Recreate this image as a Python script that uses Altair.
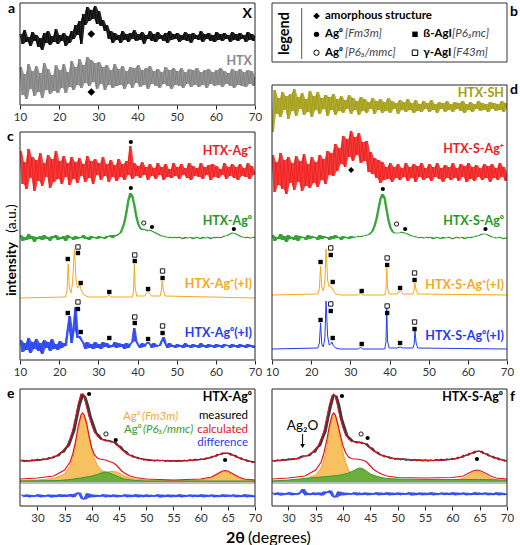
import altair as alt
import pandas as pd

FONT = "Lato"
DUMMY = pd.DataFrame({"k": [0]})

# 2-theta sampling positions
G = [10 + 0.5 * i for i in range(121)]   # panels a, c, d (10..70)
GE = [27 + 0.5 * i for i in range(87)]   # panels e, f (27..70)

# ---------------- panel a ----------------
A_X = [71, 61, 75, 63, 68, 59, 73, 64, 70, 58,
       67, 55, 72, 62, 74, 60, 69, 63, 76, 61,
       70, 64, 72, 59, 69, 62, 74, 66, 80, 70,
       84, 61, 91, 80, 98, 84, 95, 86, 99, 81,
       94, 79, 85, 74, 80, 66, 74, 62, 72, 65,
       70, 62, 74, 65, 71, 63, 72, 66, 75, 64,
       71, 65, 73, 61, 70, 66, 74, 64, 71, 63,
       73, 66, 70, 64, 72, 62, 74, 65, 71, 66,
       72, 63, 70, 65, 73, 64, 71, 62, 72, 66,
       70, 65, 74, 63, 71, 66, 72, 64, 70, 63,
       73, 65, 71, 64, 72, 66, 70, 63, 73, 65,
       71, 64, 72, 66, 70, 63, 73, 65, 71, 64,
       69]
A_HTX = [38, 10, 31, 6, 41, 16, 34, 9, 39, 13,
         32, 7, 42, 15, 36, 11, 30, 14, 40, 12,
         35, 17, 41, 12, 33, 18, 44, 15, 38, 20,
         46, 17, 40, 22, 48, 19, 45, 23, 42, 16,
         43, 21, 38, 15, 40, 20, 35, 17, 41, 19,
         36, 20, 39, 16, 34, 21, 38, 17, 37, 22,
         40, 18, 35, 20, 37, 16, 39, 21, 34, 19,
         36, 17, 33, 21, 38, 19, 35, 16, 37, 20,
         34, 19, 37, 17, 33, 21, 36, 18, 35, 20,
         37, 18, 33, 20, 35, 17, 36, 21, 33, 19,
         35, 20, 37, 18, 34, 21, 32, 19, 36, 17,
         34, 20, 36, 19, 33, 18, 35, 21, 34, 19,
         27]
A_MK = (["dia", "dia"], [28.2, 28.2], [71, 13])

# ---------------- panel c ----------------
C_AGP = [209, 176, 198, 171, 211, 182, 203, 169, 200, 179,
         207, 174, 197, 183, 205, 172, 201, 178, 209, 181,
         199, 176, 204, 183, 197, 175, 203, 181, 198, 177,
         202, 184, 196, 178, 204, 182, 199, 176, 201, 185,
         197, 180, 203, 184, 196, 178, 200, 183, 195, 179,
         201, 183, 196, 180, 199, 185, 214, 181, 197, 184,
         194, 182, 198, 185, 193, 180, 196, 184, 192, 181,
         197, 185, 193, 180, 196, 183, 191, 182, 197, 184,
         193, 181, 196, 185, 192, 182, 197, 180, 194, 184,
         192, 183, 197, 181, 193, 185, 195, 180, 196, 183,
         194, 182, 191, 185, 197, 181, 193, 184, 196, 182,
         193, 180, 196, 184, 192, 183, 197, 181, 194, 185,
         188]
C_AG0 = [125, 119, 123, 120, 126, 121, 124, 118, 123, 121,
         124, 120, 125, 121, 123, 119, 124, 122, 125, 120,
         123, 121, 124, 119, 125, 122, 123, 120, 124, 121,
         123, 122, 125, 121, 123, 120, 124, 122, 123, 121,
         124, 122, 123, 121, 124, 123, 125, 122, 125, 124,
         126, 127, 132, 138, 148, 160, 167, 164, 155, 144,
         136, 132, 130, 131, 130, 129, 130, 129, 128, 127,
         126, 125, 124, 124, 123, 123, 122, 123, 122, 123,
         122, 123, 122, 121, 123, 122, 122, 123, 121, 122,
         123, 122, 121, 123, 122, 122, 123, 121, 122, 123,
         122, 123, 122, 123, 124, 124, 125, 126, 127, 127,
         126, 125, 124, 123, 123, 122, 123, 122, 122, 123,
         122]
C_AG0I = [20, 8, 17, 10, 22, 7, 18, 11, 21, 9,
          17, 6, 20, 12, 18, 9, 21, 11, 16, 10,
          19, 12, 17, 14, 30, 44, 17, 30, 53, 22,
          24, 20, 17, 11, 18, 12, 16, 11, 18, 12,
          16, 11, 18, 13, 17, 12, 15, 13, 18, 12,
          17, 13, 16, 11, 17, 12, 16, 18, 32, 19,
          15, 12, 17, 13, 16, 18, 16, 12, 17, 13,
          15, 14, 19, 23, 16, 12, 17, 13, 15, 12,
          16, 13, 15, 12, 17, 13, 15, 12, 16, 13,
          15, 12, 17, 13, 15, 12, 16, 13, 15, 12,
          16, 13, 15, 12, 16, 14, 15, 12, 16, 13,
          15, 12, 16, 13, 15, 12, 16, 13, 15, 12,
          14]
C_AGPI_T = [10, 21.6, 22.0, 22.3, 22.6, 23.0, 23.4, 23.9, 24.3, 24.7, 25.0, 25.3,
            25.7, 26.3, 27.5, 32.2, 32.7, 33.2, 38.7, 39.0, 39.2, 39.4, 39.8, 41.8,
            42.7, 43.5, 45.8, 46.1, 46.3, 46.6, 47.0, 70]
C_AGPI_V = [62, 63, 70, 96, 72, 67, 76, 111, 80, 72, 73, 75,
            69, 65, 63, 63, 65, 63, 63, 70, 96, 72, 64, 64,
            69, 64, 64, 70, 79, 70, 64, 62]
C_MK = (["dot", "dot", "ring", "dot", "dot",
         "sq", "osq", "sq", "sq", "sq", "osq", "sq", "sq", "osq", "sq",
         "sq", "osq", "sq", "sq", "sq", "osq", "sq", "sq", "osq", "sq"],
        [38.3, 38.3, 41.6, 43.7, 64.6,
         22.2, 24.8, 24.8, 25.5, 32.8, 39.3, 39.3, 42.7, 46.4, 46.4,
         22.2, 24.8, 24.8, 25.5, 32.8, 39.3, 39.3, 42.7, 46.4, 46.4],
        [218, 172, 137, 133, 131,
         101, 113, 107, 77, 68, 105, 99, 71, 89, 82,
         47, 58, 51, 28, 22, 43, 37, 21, 34, 27])

# ---------------- panel d ----------------
D_SH = [228, 270, 246, 262, 243, 268, 250, 264, 241, 266,
        249, 271, 244, 263, 251, 267, 245, 261, 248, 269,
        243, 264, 250, 268, 246, 262, 251, 265, 244, 263,
        250, 266, 245, 261, 249, 264, 247, 260, 251, 265,
        246, 262, 250, 259, 245, 263, 249, 261, 247, 258,
        251, 262, 246, 259, 250, 261, 247, 258, 249, 262,
        247, 259, 251, 257, 246, 260, 250, 258, 248, 261,
        250, 257, 247, 260, 249, 256, 248, 259, 251, 257,
        248, 260, 250, 256, 247, 258, 251, 257, 248, 259,
        250, 256, 248, 258, 251, 257, 249, 259, 247, 256,
        250, 258, 248, 256, 251, 259, 249, 257, 250, 256,
        248, 258, 251, 257, 249, 256, 250, 259, 248, 257,
        253]
D_AGP = [205, 168, 198, 175, 207, 171, 200, 166, 203, 177,
         197, 170, 204, 178, 199, 169, 206, 174, 196, 172,
         203, 177, 198, 173, 205, 180, 201, 176, 209, 185,
         207, 184, 216, 189, 212, 196, 224, 193, 221, 203,
         229, 199, 223, 205, 227, 197, 218, 199, 219, 188,
         208, 186, 202, 182, 200, 177, 198, 180, 193, 181,
         197, 178, 193, 182, 196, 180, 192, 183, 197, 179,
         193, 182, 196, 178, 194, 183, 197, 180, 192, 182,
         196, 179, 193, 183, 197, 181, 192, 178, 195, 182,
         193, 180, 197, 182, 192, 179, 196, 183, 194, 178,
         197, 181, 193, 179, 195, 183, 192, 180, 196, 182,
         194, 178, 196, 182, 192, 180, 197, 183, 193, 179,
         187]
D_AG0 = [125, 119, 123, 121, 126, 120, 124, 118, 125, 121,
         123, 120, 125, 119, 124, 122, 123, 120, 125, 121,
         124, 122, 123, 120, 125, 121, 124, 122, 123, 120,
         124, 121, 125, 122, 123, 120, 124, 122, 123, 121,
         124, 122, 123, 123, 124, 123, 124, 124, 125, 125,
         127, 129, 134, 141, 151, 161, 166, 163, 152, 141,
         133, 129, 127, 127, 127, 127, 128, 127, 127, 126,
         125, 124, 124, 123, 123, 122, 123, 122, 122, 123,
         122, 123, 121, 122, 123, 122, 121, 123, 122, 122,
         123, 122, 121, 122, 123, 122, 122, 123, 121, 122,
         123, 122, 123, 123, 124, 124, 125, 126, 126, 126,
         125, 124, 123, 123, 122, 122, 123, 122, 121, 122,
         122]
D_I_T = [10, 21.7, 22.1, 22.4, 22.7, 23.1, 23.5, 23.8, 24.2, 24.6, 25.0, 25.3,
         25.7, 26.3, 27.5, 32.1, 32.6, 33.1, 38.8, 39.1, 39.3, 39.5, 39.9, 41.9,
         42.7, 43.5, 46.0, 46.3, 46.5, 46.8, 47.2, 70]
D_AGPI_V = [65, 66, 72, 94, 73, 69, 78, 111, 80, 73, 74, 72,
            69, 66, 65, 65, 67, 65, 65, 71, 92, 72, 66, 66,
            69, 66, 66, 70, 77, 70, 66, 65]
D_AG0I_V = [11, 12, 17, 37, 16, 13, 22, 59, 24, 15, 16, 18,
            14, 12, 11, 11, 13, 11, 11, 18, 52, 19, 12, 12,
            13, 12, 12, 16, 29, 17, 12, 11]
D_MK = (["dia", "dot", "ring", "dot", "dot",
         "sq", "osq", "sq", "sq", "sq", "osq", "sq", "sq", "osq", "sq",
         "sq", "osq", "sq", "sq", "sq", "osq", "sq", "sq", "osq", "sq"],
        [30.2, 38.3, 41.8, 44.0, 64.5,
         22.4, 25.0, 25.0, 25.5, 32.9, 39.4, 39.4, 42.7, 46.4, 46.4,
         22.4, 25.0, 25.0, 25.5, 32.9, 39.4, 39.4, 42.7, 46.4, 46.4],
        [190, 171, 136, 131, 131,
         98, 112, 105, 78, 69, 102, 95, 72, 87, 80,
         40, 56, 49, 22, 16, 54, 47, 17, 38, 31])

# ---------------- panel e ----------------
E_MEAS = [46.2, 44.3, 45.8, 44.6, 46.4, 45.0,
          46.9, 45.4, 47.3, 46.2, 48.4, 47.5, 49.9, 49.6, 52.8, 53.6,
          57.8, 60.3, 67.9, 75.2, 88.8, 101.3, 112.2, 109.2, 100.8, 89.3,
          81.7, 73.4, 70.9, 66.8, 66.9, 64.8, 65.8, 63.9, 64.2, 60.9,
          59.8, 55.9, 54.7, 51.3, 51.2, 48.8, 49.3, 47.0, 47.8, 45.8,
          46.9, 45.1, 46.3, 44.7, 46.2, 44.9, 46.0, 44.5, 45.9, 44.4,
          45.8, 44.3, 45.9, 44.6, 46.1, 44.8, 46.5, 45.2, 47.1, 45.8,
          47.3, 46.3, 48.2, 47.4, 49.8, 49.2, 51.8, 51.3, 53.3, 52.2,
          53.2, 50.8, 51.3, 48.5, 48.8, 46.3, 46.8, 44.5, 45.3, 43.3,
          44.2]
E_DIFF = [11.3, 9.0, 11.6, 8.7, 11.0, 9.2,
          11.8, 8.8, 10.9, 9.3, 11.5, 8.6, 11.2, 9.1, 11.7, 8.9,
          11.4, 9.2, 12.0, 8.8, 12.6, 13.5, 7.5, 6.5, 12.8, 8.6,
          11.5, 8.9, 11.1, 9.3, 11.8, 8.7, 11.2, 9.0, 11.6, 8.8,
          11.0, 9.2, 11.7, 8.8, 11.3, 9.1, 11.8, 8.7, 11.2, 9.0,
          11.6, 8.9, 11.1, 9.3, 11.7, 8.6, 11.3, 9.1, 11.5, 8.8,
          11.2, 9.0, 11.8, 8.7, 11.1, 9.2, 11.6, 8.9, 11.3, 9.1,
          11.7, 8.8, 11.2, 9.3, 11.5, 8.7, 11.0, 9.1, 11.8, 8.9,
          11.3, 9.2, 11.6, 8.8, 11.1, 9.0, 11.7, 8.7, 11.2, 9.1,
          10.2]
E_CALC_T = [26.8, 28, 30, 32, 33, 34, 35, 35.5, 36, 36.5, 37, 37.5, 38, 38.3, 38.6, 39,
            39.5, 40, 40.5, 41, 41.5, 42, 43, 44, 44.5, 45, 45.5, 46, 46.5, 47, 48, 49,
            50, 52, 55, 58, 60, 61, 62, 63, 64, 64.5, 65, 66, 67, 68, 69, 70]
E_CALC_V = [45, 45, 46, 47.5, 49, 52, 57, 61, 67, 76, 88, 102, 111, 112, 110, 100,
            90, 81, 74, 70, 67.5, 66, 65, 63.5, 61.5, 59, 56.5, 54, 52, 50.5, 48.5, 47,
            46, 45.5, 45, 45.5, 46.5, 47.5, 49, 51, 52.5, 53, 52.5, 50.5, 48, 46, 44.5, 43.5]
E_SUM_T = [26.8, 30, 33, 35, 36, 36.5, 37, 37.5, 38, 38.3, 38.6, 39, 39.5, 40, 40.5, 41,
           41.5, 42, 42.5, 43, 43.5, 44, 44.5, 45, 45.5, 46, 47, 48, 50, 55, 60, 62, 63,
           64, 64.5, 65, 66, 67, 68, 70]
E_SUM_V = [27, 28, 30, 36, 44, 52, 64, 80, 91, 93, 91, 84, 70, 58, 51, 48,
           47, 46.5, 46, 45, 44, 43, 41, 38, 35, 33, 30, 28.5, 27, 26, 27, 29, 32,
           35, 35.5, 35, 32, 29, 27, 26]
E_FM3M_V = [25.5, 26, 27.5, 32, 40, 48, 60, 76, 88, 91, 89, 82, 68, 56, 47, 41,
            37, 35, 34, 34, 34.5, 34.5, 34, 33, 31.5, 30, 28, 27, 26, 25.3, 26, 28, 31,
            34, 35, 34, 31, 28, 26.5, 25.5]
E_P63_T = [26.8, 34, 36, 38, 40, 41, 42, 42.5, 43, 44, 45, 46, 48, 50, 70]
E_P63_V = [25, 25.5, 26.5, 28, 30, 31.5, 33.5, 34, 33.5, 31.5, 29, 27, 25.5, 25, 25]
E_MK = (["dot", "ring", "dot", "dot"], [39.5, 42.6, 44.4, 64.5], [112, 72, 66, 46])

# ---------------- panel f ----------------
F_MEAS = [45.9, 44.5, 46.3, 44.9, 46.9, 45.4,
          47.4, 45.9, 47.8, 46.8, 48.9, 50.2, 50.3, 49.8, 52.9, 53.3,
          57.9, 60.2, 67.8, 74.3, 87.9, 100.2, 110.9, 110.3, 100.8, 87.2,
          78.8, 70.3, 67.9, 64.2, 64.9, 62.8, 64.3, 62.2, 62.8, 59.3,
          58.3, 54.8, 54.3, 51.2, 51.3, 48.9, 49.8, 47.4, 48.3, 46.4,
          47.8, 46.0, 47.4, 45.6, 47.0, 45.2, 46.8, 45.0, 46.6, 44.8,
          46.4, 44.7, 46.3, 44.9, 46.7, 45.1, 46.9, 45.5, 47.3, 45.9,
          47.8, 46.7, 48.9, 48.2, 50.9, 50.2, 52.8, 52.2, 54.9, 54.1,
          55.3, 52.5, 52.8, 50.0, 50.3, 47.7, 48.4, 45.9, 46.8, 44.7,
          45.6]
F_DIFF = [13.2, 10.9, 13.6, 10.6, 13.0, 11.2,
          13.7, 10.8, 12.9, 11.3, 13.4, 17.0, 10.7, 13.1, 10.9, 13.6,
          11.0, 13.4, 10.5, 14.5, 13.0, 15.5, 9.5, 8.5, 14.5, 10.5,
          13.5, 10.9, 13.1, 11.3, 13.8, 10.7, 13.2, 11.0, 13.6, 10.8,
          13.0, 11.2, 13.7, 10.8, 13.3, 11.1, 13.8, 10.7, 13.2, 11.0,
          13.6, 10.9, 13.1, 11.3, 13.7, 10.6, 13.3, 11.1, 13.5, 10.8,
          13.2, 11.0, 13.8, 10.7, 13.1, 11.2, 13.6, 10.9, 13.3, 11.1,
          13.7, 10.8, 13.2, 11.3, 13.5, 10.7, 13.0, 11.1, 13.8, 10.9,
          13.3, 11.2, 13.6, 10.8, 13.1, 11.0, 13.7, 10.7, 13.2, 11.1,
          12.0]
F_CALC_T = [27, 28, 30, 32, 33, 34, 35, 35.5, 36, 36.5, 37, 37.5, 38, 38.3, 38.6, 39,
            39.5, 40, 40.5, 41, 41.5, 42, 43, 44, 44.5, 45, 45.5, 46, 46.5, 47, 48, 49,
            50, 52, 55, 58, 60, 61, 62, 63, 64, 64.5, 65, 66, 67, 68, 69, 70]
F_CALC_V = [45, 45.5, 46.5, 48, 49.5, 52, 57, 61, 67, 75, 87, 101, 110, 112, 110, 100,
            88, 78, 71, 67, 65, 64, 63.5, 62, 60, 57.5, 55.5, 53.5, 52, 50.5, 49, 47.5,
            47, 46.4, 45.5, 45.7, 47, 48, 50, 52, 54, 55, 54.5, 52, 49.5, 47.5, 46, 45]
F_SUM_T = [27, 30, 33, 35, 36, 36.5, 37, 37.5, 38, 38.3, 38.6, 39, 39.5, 40, 40.5, 41,
           41.5, 42, 42.5, 43, 43.5, 44, 44.5, 45, 45.5, 46, 47, 48, 50, 55, 60, 62, 63,
           64, 64.5, 65, 66, 67, 68, 70]
F_SUM_V = [27, 28, 30, 36, 44, 53, 65, 80, 91, 93, 91, 83, 71, 60, 53, 49,
           47.5, 47, 47, 46.5, 46, 45, 43, 40, 37, 35, 32, 30, 28.5, 28, 28.5, 30, 33,
           35.5, 36, 35.5, 33, 30, 28, 27]
F_FM3M_V = [25, 25.5, 27, 31, 38, 46, 58, 75, 87, 91, 89, 80, 66, 53, 43, 36,
            32, 30, 29.5, 29, 28.8, 28.5, 28.2, 28, 27.5, 27, 26.5, 26, 25.5, 25, 25.5, 27.5, 31,
            34, 35, 34, 31, 28, 26, 25]
F_P63_T = [27, 30, 33, 35, 37, 39, 40, 41, 42, 42.5, 43, 43.5, 44, 44.5, 45, 46, 47, 48,
           50, 55, 60, 65, 70]
F_P63_V = [25, 26, 27.5, 28.5, 29.5, 30.5, 31.5, 33, 35.5, 37, 38, 37.5, 36, 34, 32, 30,
           28.5, 27.5, 27, 26.5, 26.5, 26.5, 26]
F_MK = (["dot", "ring", "dot", "dot"], [39.8, 43.3, 44.5, 64.5], [110, 72, 68, 47])
FIT_BASE = 24
SEP_LEVEL = 23

# ---------------- colours ----------------
BLACK = "#000000"
FRAME = "#222222"
GRAY = "#808080"
RED = "#f01b1b"
GREEN = "#1f9a22"
ORANGE = "#f6a81c"
BLUE = "#1f3cf0"
OLIVE = "#a39c12"
FIT_RED = "#e0141c"
FILL_OR = "#f7c060"
FILL_GR = "#6aae3c"

# ---------------- panel geometry (grid cells) ----------------
W = 235
PA = {"dom": [10, 70], "ticks": [10, 20, 30, 40, 50, 60, 70], "ydom": [49, 102], "cell": 53,
      "off": 49}
PC = {"dom": [10, 70], "ticks": [10, 20, 30, 40, 50, 60, 70], "ydom": [0, 275], "cell": 275,
      "off": 0}
PD = {"dom": [10, 70], "ticks": [10, 20, 30, 40, 50, 60, 70], "ydom": [0, 275], "cell": 275,
      "off": 0}
PE = {"dom": [26.8, 70], "ticks": [30, 35, 40, 45, 50, 55, 60, 65, 70], "ydom": [0, 117],
      "cell": 117, "off": 0}
PF = {"dom": [27.0, 70], "ticks": [30, 35, 40, 45, 50, 55, 60, 65, 70], "ydom": [0, 117],
      "cell": 117, "off": 0}


def xe(P):
    return alt.X("t:Q", scale=alt.Scale(domain=P["dom"], nice=False, zero=False),
                 axis=alt.Axis(values=P["ticks"], title=None, grid=False, domain=False,
                               ticks=True, tickSize=4, tickColor=FRAME, tickWidth=1,
                               labelFont=FONT, labelFontSize=11.5, labelColor="#333",
                               labelPadding=2, labelFlush=False, labelOverlap=False,
                               offset=P["off"], format="d"))


def ye(P, field="v"):
    return alt.Y(f"{field}:Q", scale=alt.Scale(domain=P["ydom"], nice=False, zero=False),
                 axis=None)


def line(t, v, color, P, sw=1.0, clip=True):
    df = pd.DataFrame({"t": t, "v": v})
    return alt.Chart(df).mark_line(color=color, strokeWidth=sw, clip=clip).encode(
        x=xe(P), y=ye(P))


def noisy(t, v, color, P, sw=0.9, clip=True):
    """Noisy pattern: the read samples as a line, plus the band they sweep between neighbours."""
    df = pd.DataFrame({"t": t, "v": v})
    base = alt.Chart(df)
    band = base.transform_window(
        hi="max(v)", lo="min(v)", frame=[-1, 0], sort=[alt.SortField("t")]
    ).mark_area(color=color, opacity=0.85, clip=clip).encode(
        x=xe(P), y=ye(P, "hi"), y2="lo:Q")
    ln = base.mark_line(color=color, strokeWidth=sw, clip=clip).encode(x=xe(P), y=ye(P))
    return [band, ln]


def area(t, v, fill, stroke, P):
    df = pd.DataFrame({"t": t, "v": v})
    return alt.Chart(df).mark_area(color=fill, opacity=1, clip=True,
                                   line={"color": stroke, "strokeWidth": 1}).encode(
        x=xe(P), y=ye(P), y2=alt.datum(FIT_BASE))


STYLE = {
    "dia": dict(shape="diamond", filled=True, color=BLACK),
    "dot": dict(shape="circle", filled=True, color=BLACK),
    "ring": dict(shape="circle", filled=True, fill="white", stroke=BLACK, strokeWidth=0.9),
    "sq": dict(shape="square", filled=True, color=BLACK),
    "osq": dict(shape="square", filled=True, fill="white", stroke=BLACK, strokeWidth=0.9),
}


def markers(mk, P, sizes):
    kinds, ts, hs = mk
    df = pd.DataFrame({"k": kinds, "t": ts, "v": hs})
    out = []
    for k in dict.fromkeys(kinds):
        sub = df[df.k == k]
        out.append(alt.Chart(sub).mark_point(size=sizes[k], opacity=1, **STYLE[k]).encode(
            x=xe(P), y=ye(P)))
    return out


def txt(s, x, y, color=BLACK, size=12, weight="normal", style="normal", align="left",
        baseline="middle", angle=None):
    kw = dict(text=s, font=FONT, fontSize=size, fontWeight=weight, fontStyle=style,
              color=color, align=align, baseline=baseline)
    if angle is not None:
        kw["angle"] = angle
    return alt.Chart(DUMMY).mark_text(**kw).encode(x=alt.value(x), y=alt.value(y))


def letter(s, x, y):
    return txt(s, x, y, size=14, weight="bold", baseline="alphabetic")


def frame(y0, y1, color=FRAME):
    return alt.Chart(DUMMY).mark_rect(fillOpacity=0, stroke=color, strokeWidth=1).encode(
        x=alt.value(0), x2=alt.value(W), y=alt.value(y0), y2=alt.value(y1))


SZ = {"dia": 60, "dot": 18, "ring": 18, "sq": 19, "osq": 19}
SZD = {"dia": 36, "dot": 18, "ring": 18, "sq": 19, "osq": 19}
LBL = 12.5
CO = 47  # panel c frame starts this far below the top of its grid cell

# ---------------- panel a ----------------
pa = alt.layer(
    *noisy(G, A_HTX, GRAY, PA, 0.8, clip=False),
    *noisy(G, A_X, BLACK, PA, 0.8, clip=False),
    *markers(A_MK, PA, SZ),
    txt("X", 232, 11, BLACK, 14, "bold", align="right"),
    txt("HTX", 232, 58, "#8a8a8a", LBL, "bold", align="right"),
    letter("a", -12, 10),
    frame(0, 102),
).properties(width=W, height=PA["cell"])

# ---------------- panel b (legend) ----------------
LS = 11.5
pb = alt.layer(
    frame(0, 59, "#333"),
    txt("legend", 13, 30.5, BLACK, 14.5, "bold", align="center", angle=270),
    alt.Chart(DUMMY).mark_rule(color="#555", strokeWidth=1).encode(
        x=alt.value(29.7), y=alt.value(5), y2=alt.value(56)),
    alt.Chart(DUMMY).mark_point(shape="diamond", filled=True, color=BLACK, size=45, opacity=1).encode(
        x=alt.value(44.5), y=alt.value(13)),
    txt("amorphous structure", 53, 13, BLACK, LS, "bold"),
    alt.Chart(DUMMY).mark_point(shape="circle", filled=True, color=BLACK, size=28, opacity=1).encode(
        x=alt.value(44.5), y=alt.value(31.3)),
    txt("Ag\u2070", 53, 31.3, BLACK, LS, "bold"),
    txt("[Fm3\u0304m]", 73, 31.3, "#444", LS, style="italic"),
    alt.Chart(DUMMY).mark_point(shape="circle", filled=True, fill="white", stroke=BLACK,
                                strokeWidth=1, size=28, opacity=1).encode(
        x=alt.value(44.5), y=alt.value(49.7)),
    txt("Ag\u2070", 53, 49.7, BLACK, LS, "bold"),
    txt("[P6\u2083/mmc]", 73, 49.7, "#444", LS, style="italic"),
    alt.Chart(DUMMY).mark_point(shape="square", filled=True, color=BLACK, size=30, opacity=1).encode(
        x=alt.value(143), y=alt.value(31.3)),
    txt("\u00df-AgI", 151.3, 31.3, BLACK, LS, "bold"),
    txt("[P6\u2083mc]", 180, 31.3, "#444", LS, style="italic"),
    alt.Chart(DUMMY).mark_point(shape="square", filled=True, fill="white", stroke=BLACK,
                                strokeWidth=1, size=30, opacity=1).encode(
        x=alt.value(143), y=alt.value(49.7)),
    txt("\u03b3-AgI", 151.3, 49.7, BLACK, LS, "bold"),
    txt("[F4\u03043m]", 181, 49.7, "#444", LS, style="italic"),
    letter("b", 238, 13),
).properties(width=W, height=53)

# ---------------- panel c ----------------
pc = alt.layer(
    *noisy(G, C_AGP, RED, PC, 0.8),
    *noisy(G, C_AG0, GREEN, PC, 0.8),
    line(C_AGPI_T, C_AGPI_V, ORANGE, PC, 1.0),
    *noisy(G, C_AG0I, BLUE, PC, 0.8),
    *markers(C_MK, PC, SZ),
    txt("HTX-Ag\u207a", 232, 19 + CO, RED, LBL, "bold", align="right"),
    txt("HTX-Ag\u2070", 232, 89 + CO, GREEN, LBL, "bold", align="right"),
    txt("HTX-Ag\u207a(+I)", 232, 152 + CO, ORANGE, LBL, "bold", align="right"),
    txt("HTX-Ag\u2070(+I)", 232, 201 + CO, BLUE, LBL, "bold", align="right"),
    txt("intensity", -8, 137 + CO, BLACK, 14, "bold", align="center", angle=270),
    txt("(a.u.)", -8, 86.5 + CO, BLACK, 14, align="center", angle=270),
    letter("c", -13, 9 + CO),
    frame(CO, 275),
).properties(width=W, height=PC["cell"])

# ---------------- panel d ----------------
pd_ = alt.layer(
    *noisy(G, D_SH, OLIVE, PD, 0.8),
    *noisy(G, D_AGP, RED, PD, 0.8),
    *noisy(G, D_AG0, GREEN, PD, 0.8),
    line(D_I_T, D_AGPI_V, ORANGE, PD, 1.0),
    line(D_I_T, D_AG0I_V, BLUE, PD, 1.0),
    *markers(D_MK, PD, SZD),
    txt("HTX-SH", 232, 8, OLIVE, LBL, "bold", align="right"),
    txt("HTX-S-Ag\u207a", 232, 64, RED, LBL, "bold", align="right"),
    txt("HTX-S-Ag\u2070", 232, 136, GREEN, LBL, "bold", align="right"),
    txt("HTX-S-Ag\u207a(+I)", 232, 200, ORANGE, LBL, "bold", align="right"),
    txt("HTX-S-Ag\u2070(+I)", 232, 251, BLUE, LBL, "bold", align="right"),
    letter("d", 238, 9),
    frame(0, 275),
).properties(width=W, height=PD["cell"])


# ---------------- panels e, f ----------------
def sep(P):
    return alt.Chart(pd.DataFrame({"t": P["dom"], "v": [SEP_LEVEL, SEP_LEVEL]})).mark_line(
        color="#555", strokeWidth=0.8).encode(x=xe(P), y=ye(P))


TS = 11.5
pe = alt.layer(
    area(E_SUM_T, E_FM3M_V, FILL_OR, "#f0a030", PE),
    area(E_P63_T, E_P63_V, FILL_GR, "#3c9a2a", PE),
    sep(PE),
    line(E_SUM_T, E_SUM_V, FIT_RED, PE, 1.2),
    *noisy(GE, E_MEAS, "#1a1a1a", PE, 0.7),
    line(E_CALC_T, E_CALC_V, FIT_RED, PE, 1.1),
    *noisy(GE, E_DIFF, BLUE, PE, 0.7),
    *markers(E_MK, PE, SZ),
    txt("HTX-Ag\u2070", 232, 8, BLACK, LBL, "bold", align="right"),
    txt("Ag\u2070", 103, 28, "#f2a93b", TS),
    txt("(Fm3\u0304m)", 122, 28, "#f2a93b", TS, style="italic"),
    txt("Ag\u2070", 104, 41, "#3a9d2a", TS),
    txt("(P6\u2083/mmc)", 123, 41, "#3a9d2a", TS, style="italic"),
    txt("measured", 228, 27, BLACK, TS, align="right"),
    txt("calculated", 228, 41, FIT_RED, TS, align="right"),
    txt("difference", 228, 54, BLUE, TS, align="right"),
    txt("2\u03b8", 225, 149, BLACK, 16, "bold", align="right"),
    txt("(degrees)", 228, 149, BLACK, 16),
    letter("e", -13, 9),
    frame(0, 117),
).properties(width=W, height=PE["cell"])

pf = alt.layer(
    area(F_SUM_T, F_FM3M_V, FILL_OR, "#f0a030", PF),
    area(F_P63_T, F_P63_V, FILL_GR, "#3c9a2a", PF),
    sep(PF),
    line(F_SUM_T, F_SUM_V, FIT_RED, PF, 1.2),
    *noisy(GE, F_MEAS, "#1a1a1a", PF, 0.7),
    line(F_CALC_T, F_CALC_V, FIT_RED, PF, 1.1),
    *noisy(GE, F_DIFF, BLUE, PF, 0.7),
    *markers(F_MK, PF, SZ),
    txt("HTX-S-Ag\u2070", 231, 8, BLACK, LBL, "bold", align="right"),
    txt("Ag\u2082O", 30.5, 37, BLACK, 13.5, align="center"),
    alt.Chart(DUMMY).mark_rule(color=BLACK, strokeWidth=1).encode(
        x=alt.value(30.6), y=alt.value(45), y2=alt.value(56)),
    alt.Chart(DUMMY).mark_point(shape="triangle-down", filled=True, color=BLACK, size=22,
                                opacity=1).encode(x=alt.value(30.6), y=alt.value(57)),
    letter("f", 238, 12),
    frame(0, 117),
).properties(width=W, height=PF["cell"])

chart = alt.concat(pa, pb, pc, pd_, pe, pf, columns=2,
                   spacing={"row": 29, "column": 17}, bounds="flush").properties(
    padding={"left": 5, "top": 2, "right": 0, "bottom": 0}
).configure_view(stroke=None)

chart.save("out.html", embed_options={"renderer": "svg", "actions": False})
